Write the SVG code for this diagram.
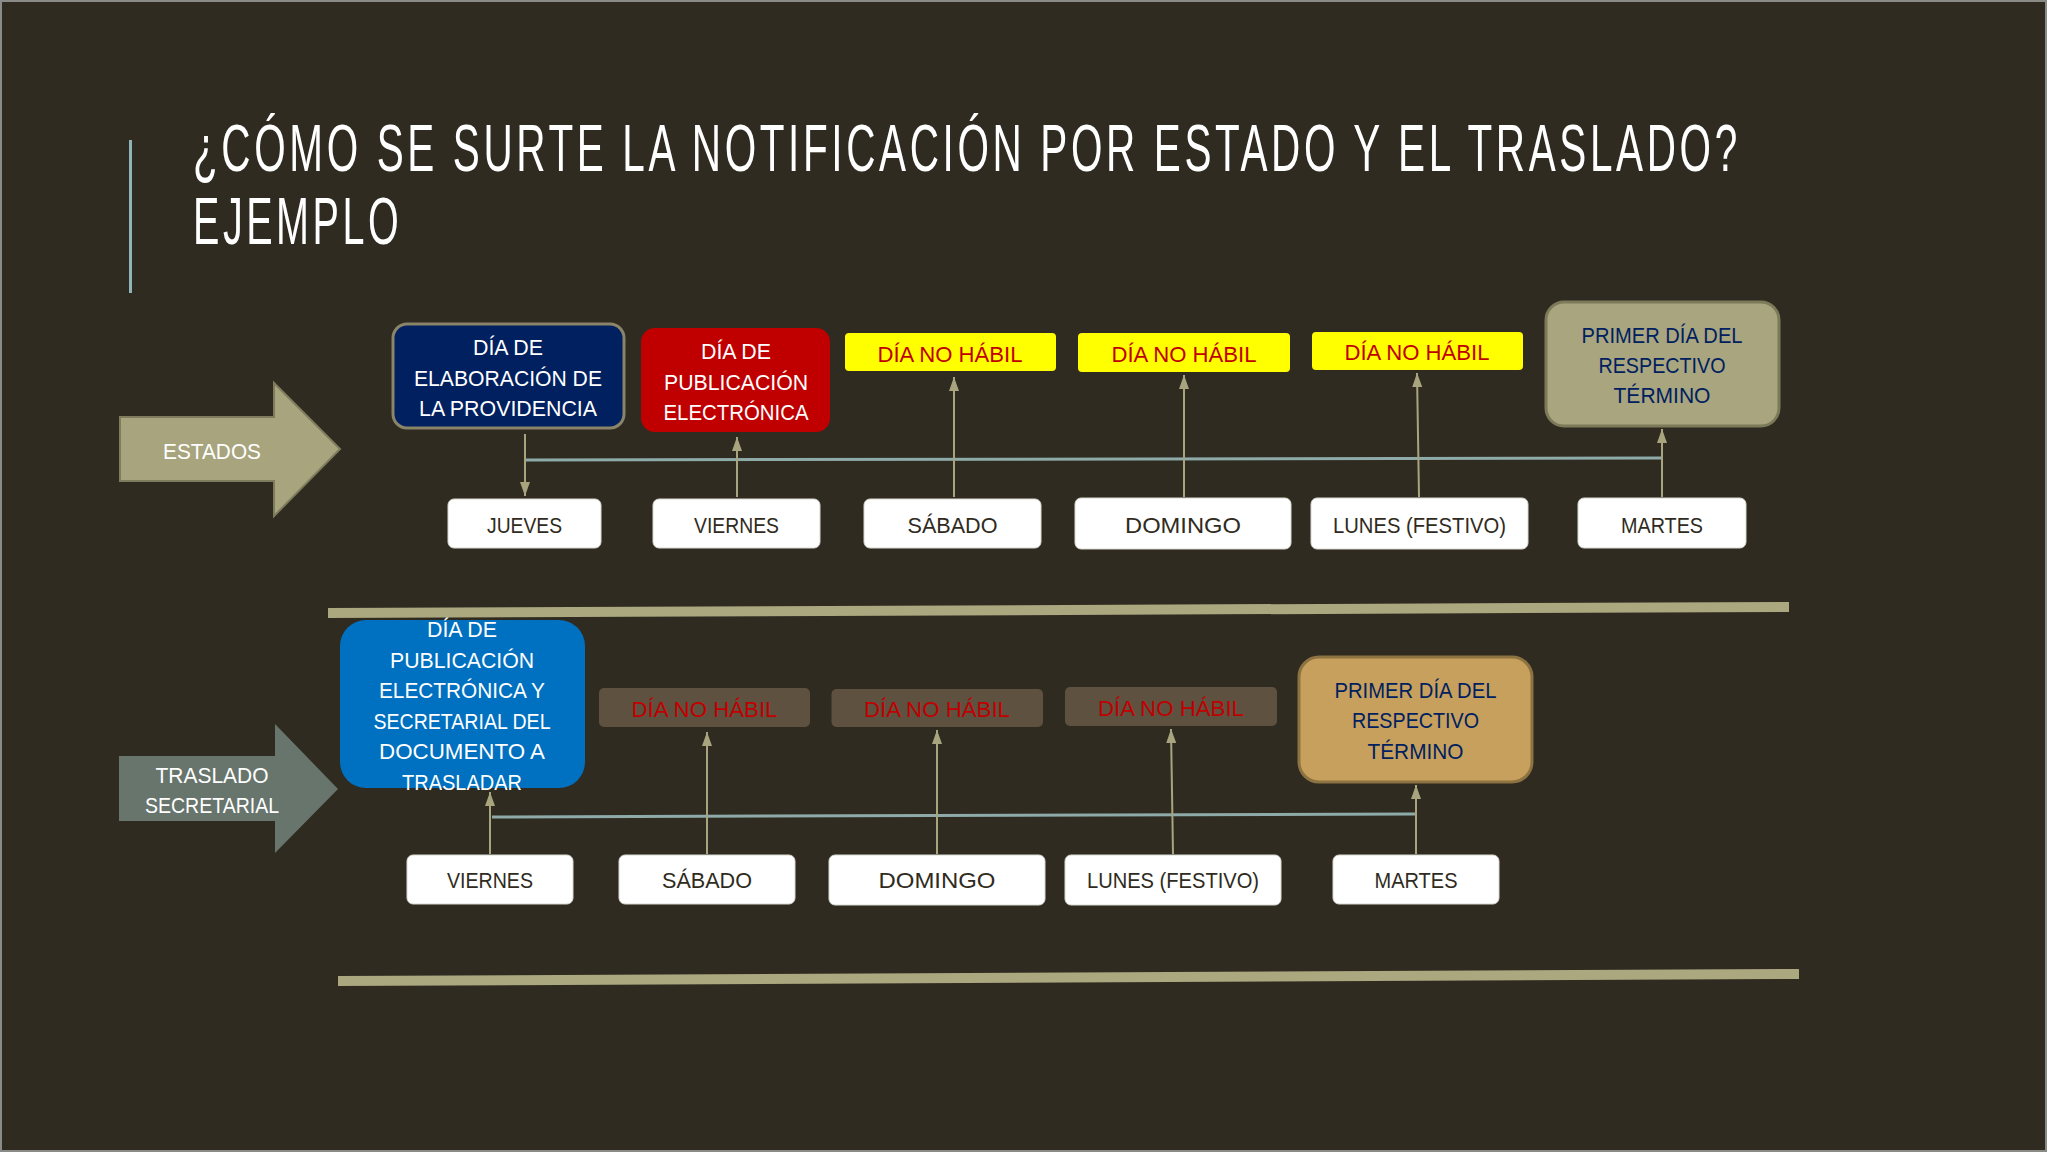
<svg xmlns="http://www.w3.org/2000/svg" width="2047" height="1152" viewBox="0 0 2047 1152">
<defs>
<style>
.t{font-family:"Liberation Sans",Arial,sans-serif;font-size:22px;text-anchor:middle}
.ttl{font-family:"Liberation Sans",Arial,sans-serif;font-size:67px;fill:#FFFFFF;letter-spacing:6px}
.w{fill:#FFFFFF}.n{fill:#002060}.r{fill:#C00000}.d{fill:#2F2B21}
.day{fill:#FFFFFF;stroke:#D8D8D0;stroke-width:1}
.con{stroke:#A8A57E;stroke-width:2;fill:none}
.bus{stroke:#8EABA9;stroke-width:3;fill:none}
.sep{stroke:#ABA77F;stroke-width:10;fill:none}
</style>
<marker id="ah" viewBox="0 0 14 10" refX="14" refY="5" markerWidth="14" markerHeight="10" markerUnits="userSpaceOnUse" orient="auto">
<path d="M0,0 L14,5 L0,10 z" fill="#A8A57E"/>
</marker>
</defs>
<rect x="0" y="0" width="2047" height="1152" fill="#2F2B21"/>
<rect x="1" y="1" width="2045" height="1150" fill="none" stroke="#8A8A86" stroke-width="2"/>

<g id="title">
<line x1="130.5" y1="140" x2="130.5" y2="293" stroke="#8EB4B7" stroke-width="3"/>
<text class="ttl" transform="translate(193,171) scale(0.6045,1)" x="0" y="0">¿CÓMO SE SURTE LA NOTIFICACIÓN POR ESTADO Y EL TRASLADO?</text>
<text class="ttl" transform="translate(193,244) scale(0.59,1)" x="0" y="0">EJEMPLO</text>
</g>

<g id="separators">
<line class="sep" x1="328" y1="613" x2="1789" y2="607"/>
<line class="sep" x1="338" y1="981" x2="1799" y2="974"/>
</g>

<g id="connectors">
<polyline class="bus" points="525,460 1662,458"/>
<line class="con" x1="525" y1="434" x2="525" y2="496" marker-end="url(#ah)"/>
<line class="con" x1="737" y1="497" x2="737" y2="437" marker-end="url(#ah)"/>
<line class="con" x1="954" y1="497" x2="954" y2="377" marker-end="url(#ah)"/>
<line class="con" x1="1184" y1="497" x2="1184" y2="375" marker-end="url(#ah)"/>
<line class="con" x1="1419" y1="497" x2="1417" y2="373" marker-end="url(#ah)"/>
<line class="con" x1="1662" y1="497" x2="1662" y2="429" marker-end="url(#ah)"/>

<polyline class="bus" points="492,817 1415,814"/>
<line class="con" x1="490" y1="854" x2="490" y2="792" marker-end="url(#ah)"/>
<line class="con" x1="707" y1="854" x2="707" y2="732" marker-end="url(#ah)"/>
<line class="con" x1="937" y1="854" x2="937" y2="730" marker-end="url(#ah)"/>
<line class="con" x1="1173" y1="854" x2="1171" y2="729" marker-end="url(#ah)"/>
<line class="con" x1="1416" y1="854" x2="1416" y2="785" marker-end="url(#ah)"/>
</g>

<g id="arrow-estados">
<polygon points="120,417 274,417 274,383 340,449 274,516 274,481 120,481" fill="#A8A57E" stroke="#7F7C5D" stroke-width="2"/>
<text class="t w" x="212" y="459" textLength="98" lengthAdjust="spacingAndGlyphs">ESTADOS</text>
</g>

<g id="arrow-traslado">
<polygon points="119,756 275,756 275,724 338,789 275,853 275,821 119,821" fill="#67756D"/>
<text class="t w" x="212" y="783" textLength="113" lengthAdjust="spacingAndGlyphs">TRASLADO</text>
<text class="t w" x="212" y="813" textLength="134" lengthAdjust="spacingAndGlyphs">SECRETARIAL</text>
</g>

<g id="top-elaboracion">
<rect x="393" y="324" width="231" height="104" rx="14" fill="#002060" stroke="#8A8468" stroke-width="3"/>
<text class="t w" x="508" y="355" textLength="70" lengthAdjust="spacingAndGlyphs">DÍA DE</text>
<text class="t w" x="508" y="386" textLength="188" lengthAdjust="spacingAndGlyphs">ELABORACIÓN DE</text>
<text class="t w" x="508" y="416" textLength="178" lengthAdjust="spacingAndGlyphs">LA PROVIDENCIA</text>
</g>

<g id="top-publicacion">
<rect x="641" y="328" width="189" height="104" rx="14" fill="#C00000"/>
<text class="t w" x="736" y="359" textLength="70" lengthAdjust="spacingAndGlyphs">DÍA DE</text>
<text class="t w" x="736" y="390" textLength="144" lengthAdjust="spacingAndGlyphs">PUBLICACIÓN</text>
<text class="t w" x="736" y="420" textLength="145" lengthAdjust="spacingAndGlyphs">ELECTRÓNICA</text>
</g>

<g id="top-nohabil-1">
<rect x="845" y="333" width="211" height="38" rx="4" fill="#FFFF00"/>
<text class="t r" x="950" y="362" textLength="145" lengthAdjust="spacingAndGlyphs">DÍA NO HÁBIL</text>
</g>
<g id="top-nohabil-2">
<rect x="1078" y="333" width="212" height="39" rx="4" fill="#FFFF00"/>
<text class="t r" x="1184" y="362" textLength="145" lengthAdjust="spacingAndGlyphs">DÍA NO HÁBIL</text>
</g>
<g id="top-nohabil-3">
<rect x="1312" y="332" width="211" height="38" rx="4" fill="#FFFF00"/>
<text class="t r" x="1417" y="360" textLength="145" lengthAdjust="spacingAndGlyphs">DÍA NO HÁBIL</text>
</g>

<g id="top-primer">
<rect x="1546" y="302" width="233" height="124" rx="18" fill="#A9A57F" stroke="#7D7A5A" stroke-width="3"/>
<text class="t n" x="1662" y="343" textLength="161" lengthAdjust="spacingAndGlyphs">PRIMER DÍA DEL</text>
<text class="t n" x="1662" y="373" textLength="127" lengthAdjust="spacingAndGlyphs">RESPECTIVO</text>
<text class="t n" x="1662" y="403" textLength="97" lengthAdjust="spacingAndGlyphs">TÉRMINO</text>
</g>

<g id="top-jueves">
<rect class="day" x="448" y="499" width="153" height="49" rx="6"/>
<text class="t d" x="524.5" y="533" textLength="75" lengthAdjust="spacingAndGlyphs">JUEVES</text>
</g>
<g id="top-viernes">
<rect class="day" x="653" y="499" width="167" height="49" rx="6"/>
<text class="t d" x="736.5" y="533" textLength="85" lengthAdjust="spacingAndGlyphs">VIERNES</text>
</g>
<g id="top-sabado">
<rect class="day" x="864" y="499" width="177" height="49" rx="6"/>
<text class="t d" x="952.5" y="533" textLength="90" lengthAdjust="spacingAndGlyphs">SÁBADO</text>
</g>
<g id="top-domingo">
<rect class="day" x="1075" y="498" width="216" height="51" rx="6"/>
<text class="t d" x="1183" y="533" textLength="116" lengthAdjust="spacingAndGlyphs">DOMINGO</text>
</g>
<g id="top-lunes">
<rect class="day" x="1311" y="498" width="217" height="51" rx="6"/>
<text class="t d" x="1419.5" y="533" textLength="173" lengthAdjust="spacingAndGlyphs">LUNES (FESTIVO)</text>
</g>
<g id="top-martes">
<rect class="day" x="1578" y="498" width="168" height="50" rx="6"/>
<text class="t d" x="1662" y="533" textLength="82" lengthAdjust="spacingAndGlyphs">MARTES</text>
</g>

<g id="bottom-publicacion">
<rect x="340" y="620" width="245" height="168" rx="26" fill="#0070C0"/>
<text class="t w" x="462" y="637" textLength="70" lengthAdjust="spacingAndGlyphs">DÍA DE</text>
<text class="t w" x="462" y="667.5" textLength="144" lengthAdjust="spacingAndGlyphs">PUBLICACIÓN</text>
<text class="t w" x="462" y="698" textLength="166" lengthAdjust="spacingAndGlyphs">ELECTRÓNICA Y</text>
<text class="t w" x="462" y="728.5" textLength="177" lengthAdjust="spacingAndGlyphs">SECRETARIAL DEL</text>
<text class="t w" x="462" y="759" textLength="166" lengthAdjust="spacingAndGlyphs">DOCUMENTO A</text>
<text class="t w" x="462" y="789.5" textLength="120" lengthAdjust="spacingAndGlyphs">TRASLADAR</text>
</g>

<g id="bottom-nohabil-1">
<rect x="599" y="688" width="211" height="39" rx="5" fill="#5E5140"/>
<text class="t r" x="704.5" y="717" textLength="146" lengthAdjust="spacingAndGlyphs">DÍA NO HÁBIL</text>
</g>
<g id="bottom-nohabil-2">
<rect x="831.5" y="689" width="211.5" height="38" rx="5" fill="#5E5140"/>
<text class="t r" x="937" y="717" textLength="146" lengthAdjust="spacingAndGlyphs">DÍA NO HÁBIL</text>
</g>
<g id="bottom-nohabil-3">
<rect x="1065" y="687" width="212" height="39" rx="5" fill="#5E5140"/>
<text class="t r" x="1171" y="716" textLength="146" lengthAdjust="spacingAndGlyphs">DÍA NO HÁBIL</text>
</g>

<g id="bottom-primer">
<rect x="1299" y="657" width="233" height="125" rx="20" fill="#C6A05C" stroke="#8D7341" stroke-width="3"/>
<text class="t n" x="1415.5" y="698" textLength="162" lengthAdjust="spacingAndGlyphs">PRIMER DÍA DEL</text>
<text class="t n" x="1415.5" y="728" textLength="127" lengthAdjust="spacingAndGlyphs">RESPECTIVO</text>
<text class="t n" x="1415.5" y="759" textLength="96" lengthAdjust="spacingAndGlyphs">TÉRMINO</text>
</g>

<g id="bottom-viernes">
<rect class="day" x="407" y="855" width="166" height="49" rx="6"/>
<text class="t d" x="490" y="888" textLength="86" lengthAdjust="spacingAndGlyphs">VIERNES</text>
</g>
<g id="bottom-sabado">
<rect class="day" x="619" y="855" width="176" height="49" rx="6"/>
<text class="t d" x="707" y="888" textLength="90" lengthAdjust="spacingAndGlyphs">SÁBADO</text>
</g>
<g id="bottom-domingo">
<rect class="day" x="829" y="855" width="216" height="50" rx="6"/>
<text class="t d" x="937" y="888" textLength="117" lengthAdjust="spacingAndGlyphs">DOMINGO</text>
</g>
<g id="bottom-lunes">
<rect class="day" x="1065" y="855" width="216" height="50" rx="6"/>
<text class="t d" x="1173" y="888" textLength="172" lengthAdjust="spacingAndGlyphs">LUNES (FESTIVO)</text>
</g>
<g id="bottom-martes">
<rect class="day" x="1333" y="855" width="166" height="49" rx="6"/>
<text class="t d" x="1416" y="888" textLength="83" lengthAdjust="spacingAndGlyphs">MARTES</text>
</g>
</svg>
